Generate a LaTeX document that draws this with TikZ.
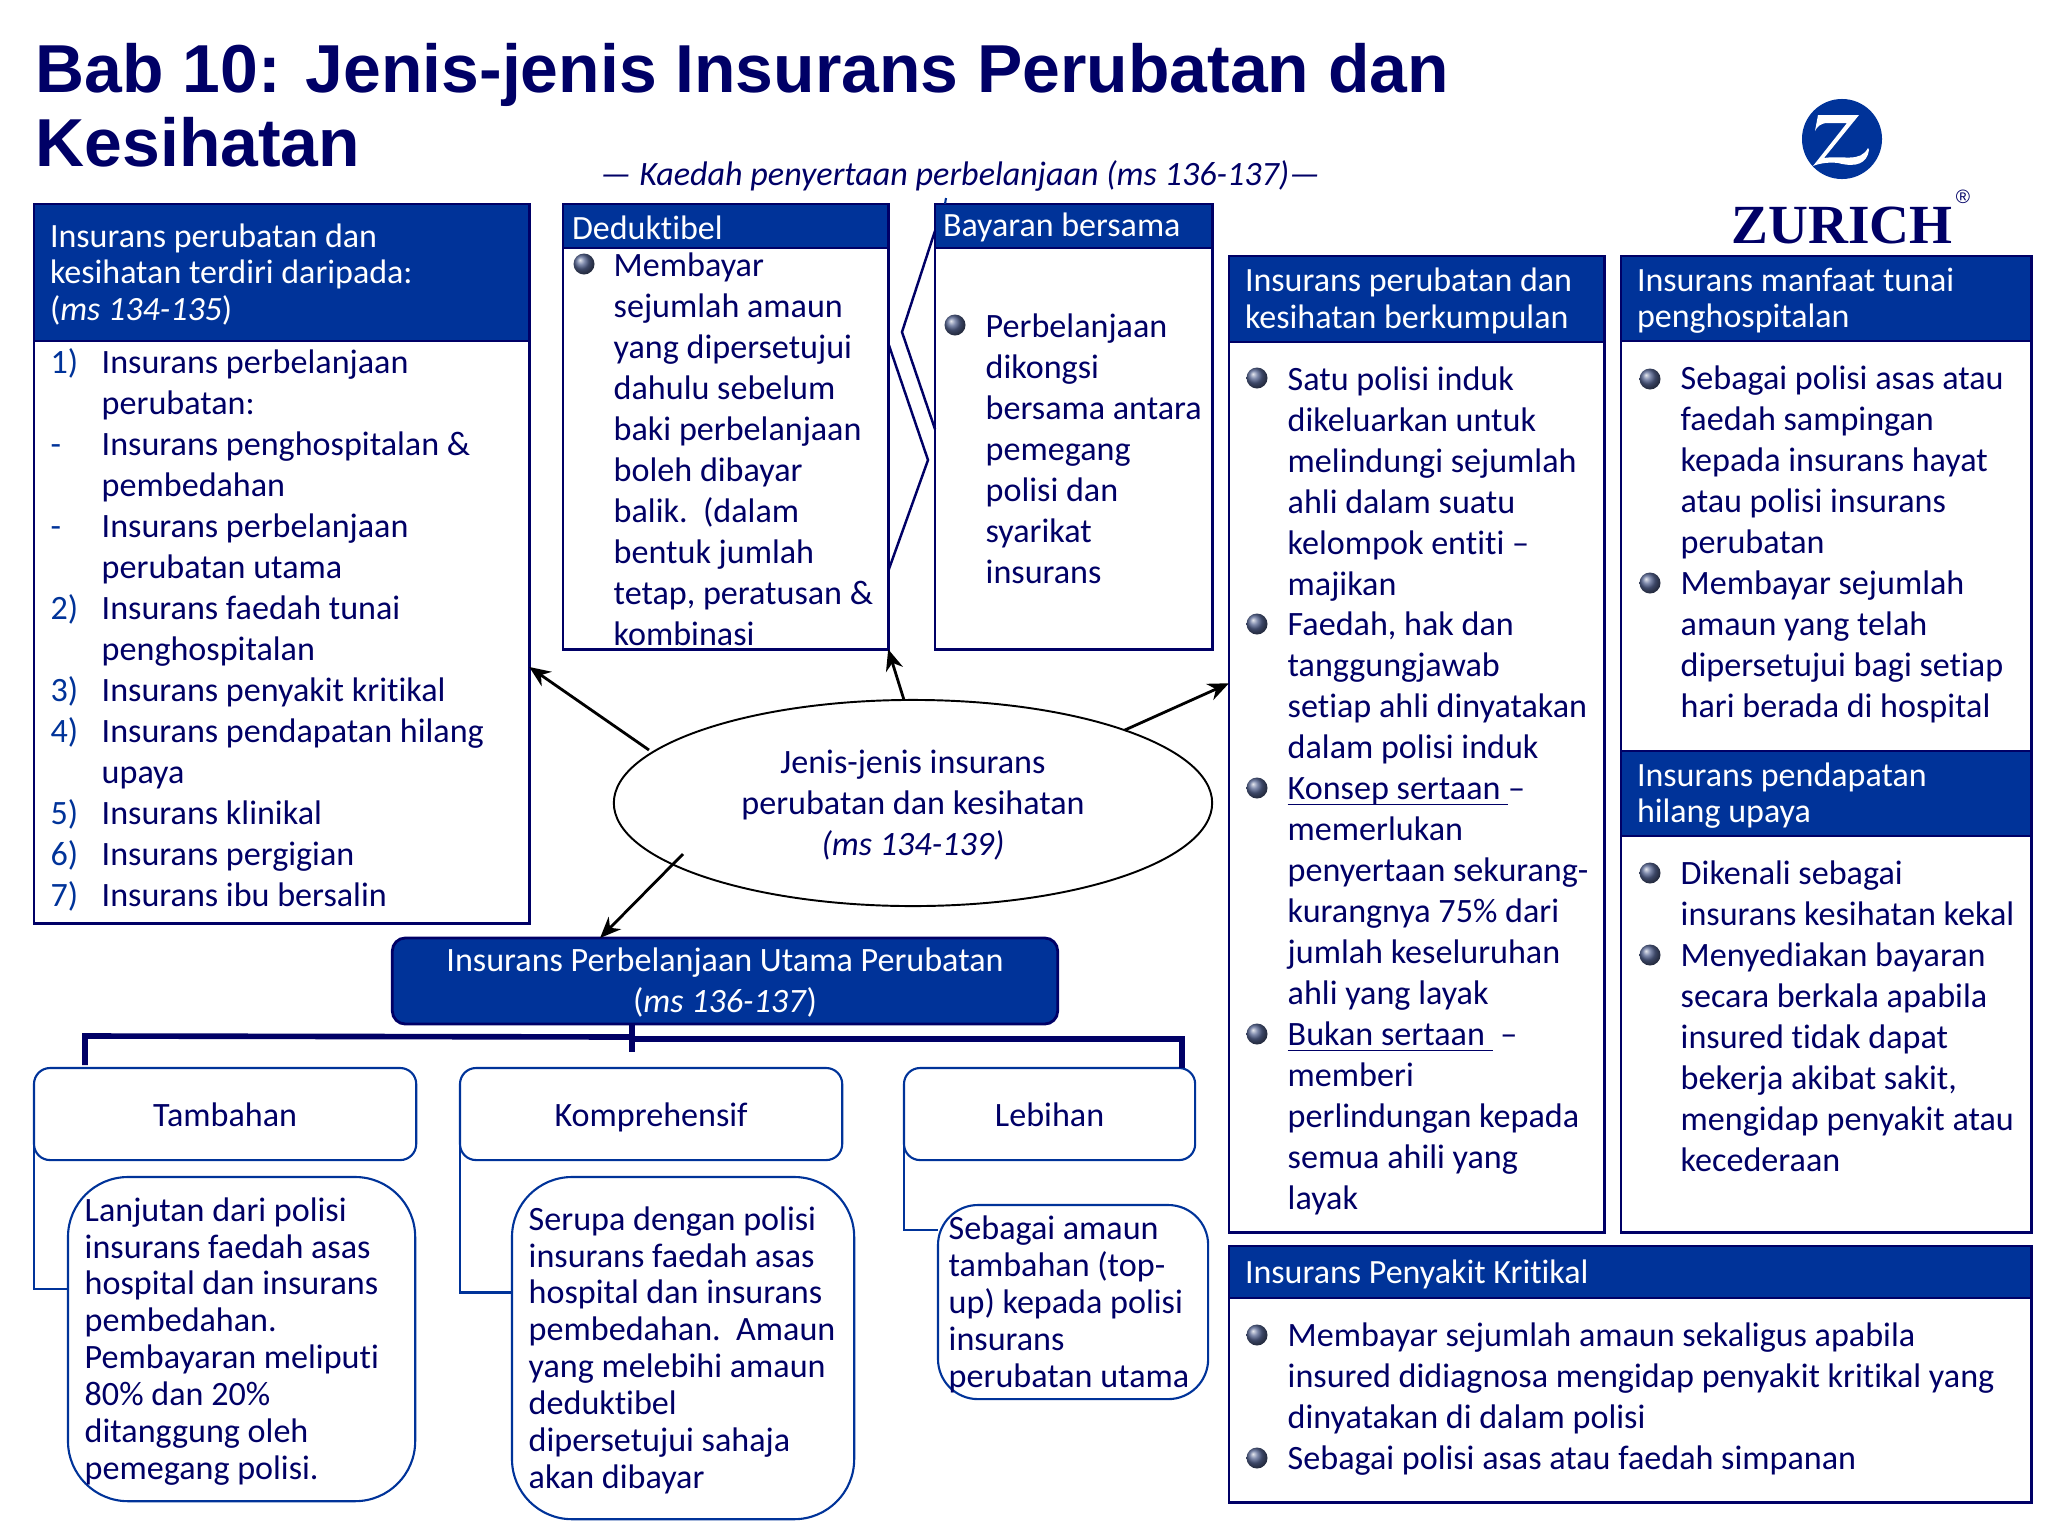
\documentclass[tikz,border=0pt]{standalone}
\usepackage{fontspec}
\setmainfont{Carlito}[Ligatures=NoCommon]
\newfontfamily\titlefont{Liberation Sans}
\newfontfamily\logofont{Liberation Serif}
\definecolor{zurichblue}{RGB}{0,51,153}
\definecolor{zurichnavy}{RGB}{0,0,102}
\definecolor{ballgrey}{RGB}{85,100,145}
\usetikzlibrary{shapes.geometric,arrows.meta,calc}
\newcommand{\bodyfont}{\fontsize{9.7}{11.64}\selectfont}
\newcommand{\headfont}{\fontsize{9.67}{10.4}\selectfont}
\newcommand{\subfont}{\fontsize{9.7}{10.47}\selectfont}

\tikzset{
    headbox/.style={draw=zurichnavy, line width=0.8pt, fill=zurichblue, text=white, anchor=north west, inner xsep=0.16cm, inner ysep=0pt, outer sep=0pt, align=flush left, font=\headfont, execute at begin node={\rule{0pt}{7.8pt}}},
    bodybox/.style={draw=zurichnavy, line width=0.8pt, fill=white, anchor=north west, inner sep=0pt, outer sep=0pt},
    bodytext/.style={text=zurichnavy, anchor=base west, inner sep=0pt, align=left, font=\bodyfont},
    subtext/.style={text=zurichnavy, anchor=base west, inner sep=0pt, align=left, font=\subfont},
    kindbox/.style={draw=zurichblue, line width=0.6pt, rounded corners=0.16cm, text=zurichnavy, anchor=north west, inner sep=0pt, outer sep=0pt, minimum height=0.92cm, text height=7pt, text depth=0pt, font=\bodyfont},
    notebox/.style={draw=zurichblue, line width=0.6pt, fill=white, anchor=north west, inner sep=0pt, outer sep=0pt},
    ballmark/.style={ball color=ballgrey},
    pointer/.style={draw=black, line width=0.8pt, -{Stealth[length=6pt,width=5pt]}},
    branch/.style={draw=zurichnavy, line width=1.6pt},
    subline/.style={draw=zurichblue, line width=0.6pt},
    chevron/.style={draw=zurichnavy, line width=0.7pt}
}

\begin{document}
\begin{tikzpicture}[x=0.01cm, y=-0.01cm]
    \useasboundingbox (0,0) rectangle (2048,1536);

    % Title and logo
    \node[font=\titlefont\bfseries\fontsize{19.3}{21}\selectfont, text=zurichnavy, anchor=base west, inner sep=0pt, align=left] (title) at (35,166) {Bab 10: Jenis-jenis Insurans Perubatan dan\\Kesihatan};
    \node[font=\bodyfont\itshape, text=zurichnavy, anchor=base west, inner sep=0pt] (method) at (600,185) {--- Kaedah penyertaan perbelanjaan (ms 136-137)---};
    \node[circle, fill=zurichblue, minimum size=0.8cm, inner sep=0pt] (logodisc) at (1842,139) {};
    \fill[white] (1818,115) -- (1859,115) -- (1824,158) .. controls (1843,155) and (1860,163) .. (1868,148) -- (1869,150) .. controls (1867,163) and (1857,168) .. (1838,163) .. controls (1830,162) and (1820,163) .. (1813,166) -- (1847,123) -- (1828,123) .. controls (1820,123) and (1817,127) .. (1815,131) -- cycle;
    \node[font=\logofont\bfseries\fontsize{15.7}{18}\selectfont, text=zurichnavy, anchor=base, inner sep=0pt] (logoname) at (1842,243) {ZURICH};
    \node[font=\titlefont\fontsize{5.5}{6}\selectfont, text=zurichnavy, inner sep=0pt] (logomark) at (1963,197) {®};

    % Left column
    \node[bodybox, minimum width=4.95cm, minimum height=5.82cm] (perubody) at (34,341) {};
    \node[headbox, text width=4.63cm, minimum height=1.37cm] (peruhead) at (34,204) {Insurans perubatan dan\\kesihatan terdiri daripada:\\(\textit{ms 134-135})};
    \node[bodytext, text=zurichblue] (perunum) at (50,906) {1)\\ \\-\\ \\-\\ \\2)\\ \\3)\\4)\\ \\5)\\6)\\7)};
    \node[bodytext] (perutext) at (101,906) {Insurans perbelanjaan\\perubatan:\\Insurans penghospitalan \&\\pembedahan\\Insurans perbelanjaan\\perubatan utama\\Insurans faedah tunai\\penghospitalan\\Insurans penyakit kritikal\\Insurans pendapatan hilang\\upaya\\Insurans klinikal\\Insurans pergigian\\Insurans ibu bersalin};

    % Cost sharing
    \node[bodybox, minimum width=3.25cm, minimum height=4.01cm] (dedubody) at (563,248) {};
    \node[headbox, inner xsep=0.09cm, text width=3.07cm, minimum height=0.44cm] (deduhead) at (563,204) {Deduktibel};
    \node[bodytext] (dedutext) at (613,645) {Membayar\\sejumlah amaun\\yang dipersetujui\\dahulu sebelum\\baki perbelanjaan\\boleh dibayar\\balik.\ \ (dalam\\bentuk jumlah\\tetap, peratusan \&\\kombinasi};
    \node[bodybox, minimum width=2.77cm, minimum height=4.01cm] (bayarbody) at (935,248) {};
    \node[headbox, inner xsep=0.08cm, text width=2.61cm, minimum height=0.44cm] (bayarhead) at (935,204) {Bayaran bersama};
    \node[bodytext] (bayartext) at (985,583) {Perbelanjaan\\dikongsi\\bersama antara\\pemegang\\polisi dan\\syarikat\\insurans};
    \foreach \y in {264} \shade[ballmark] (584,\y) circle (10.5);
    \foreach \y in {325} \shade[ballmark] (955,\y) circle (10.5);
    \coordinate (chevleft) at (902,332);
    \coordinate (chevright) at (928,460);
    \draw[chevron] (bayarhead.182.5) -- (chevleft) -- (bayarbody.172);
    \draw[chevron] (dedubody.33) -- (chevright) -- (dedubody.-37.5);
    \draw[subline] ($(bayarhead.north west)+(10,0)$) -- +(1,-6);

    % Group cover
    \node[bodybox, minimum width=3.75cm, minimum height=8.9cm] (grupbody) at (1229,342) {};
    \node[headbox, text width=3.43cm, minimum height=0.86cm] (gruphead) at (1229,256) {Insurans perubatan dan\\kesihatan berkumpulan};
    \node[bodytext] (gruptext) at (1287,1209) {Satu polisi induk\\dikeluarkan untuk\\melindungi sejumlah\\ahli dalam suatu\\kelompok entiti --\\majikan\\Faedah, hak dan\\tanggungjawab\\setiap ahli dinyatakan\\dalam polisi induk\\\underline{\smash{Konsep sertaan}\ }--\\memerlukan\\penyertaan sekurang-\\kurangnya 75\% dari\\jumlah keseluruhan\\ahli yang layak\\\underline{\smash{Bukan sertaan}\ }\ --\\memberi\\perlindungan kepada\\semua ahili yang\\layak};
    \foreach \y in {378,624,788,1034} \shade[ballmark] (1257,\y) circle (10.5);

    % Hospital cash and income
    \node[bodybox, minimum width=4.1cm, minimum height=4.1cm] (tunaibody) at (1621,341) {};
    \node[headbox, text width=3.78cm, minimum height=0.85cm] (tunaihead) at (1621,256) {Insurans manfaat tunai\\penghospitalan};
    \node[bodytext] (tunaitext) at (1680,717) {Sebagai polisi asas atau\\faedah sampingan\\kepada insurans hayat\\atau polisi insurans\\perubatan\\Membayar sejumlah\\amaun yang telah\\dipersetujui bagi setiap\\hari berada di hospital};
    \node[bodybox, minimum width=4.1cm, minimum height=3.96cm] (hilangbody) at (1621,836) {};
    \node[headbox, text width=3.78cm, minimum height=0.85cm] (hilanghead) at (1621,751) {Insurans pendapatan\\hilang upaya};
    \node[bodytext] (hilangtext) at (1680,1171) {Dikenali sebagai\\insurans kesihatan kekal\\Menyediakan bayaran\\secara berkala apabila\\insured tidak dapat\\bekerja akibat sakit,\\mengidap penyakit atau\\kecederaan};
    \foreach \y in {379,583,873,955} \shade[ballmark] (1650,\y) circle (10.5);

    % Critical illness
    \node[bodybox, minimum width=8.02cm, minimum height=2.04cm] (kritbody) at (1229,1298) {};
    \node[headbox, text width=7.7cm, minimum height=0.52cm] (krithead) at (1229,1246) {Insurans Penyakit Kritikal};
    \node[bodytext] (krittext) at (1287,1469) {Membayar sejumlah amaun sekaligus apabila\\insured didiagnosa mengidap penyakit kritikal yang\\dinyatakan di dalam polisi\\Sebagai polisi asas atau faedah simpanan};
    \foreach \y in {1335,1458} \shade[ballmark] (1257,\y) circle (10.5);

    % Centre ellipse
    \node[ellipse, draw=black, line width=0.55pt, fill=white, minimum width=5.98cm, minimum height=2.06cm, inner sep=0pt, outer sep=0pt, text=zurichnavy, align=center, font=\bodyfont] (jenis) at (913,803) {\rule{0pt}{8pt}Jenis-jenis insurans\\perubatan dan kesihatan\\\textit{(ms 134-139)}};
    \coordinate (jenisleft) at (649,750);
    \coordinate (jenisdown) at (683,854);
    \draw[pointer] (jenisleft) -- (perubody.-8);
    \draw[pointer] (jenis.95) -- (dedubody.south east);
    \draw[pointer] (jenis.19) -- (grupbody.151);

    % Main medical
    \node[draw=zurichnavy, line width=0.8pt, fill=zurichblue, text=white, rounded corners=0.13cm, minimum width=6.65cm, minimum height=0.86cm, inner sep=0pt, outer sep=0pt, align=center, font=\bodyfont] (utama) at (725,981) {\rule{0pt}{7.4pt}Insurans Perbelanjaan Utama Perubatan\\(\textit{ms 136-137})};
    \draw[pointer] (jenisdown) -- (utama.161.3);

    % Three kinds
    \node[kindbox, minimum width=3.82cm] (tambah) at (34,1068) {Tambahan};
    \node[kindbox, minimum width=3.82cm] (kompre) at (460,1068) {Komprehensif};
    \node[kindbox, minimum width=2.91cm] (lebih) at (904,1068) {Lebihan};
    \coordinate (hub) at (632,1037);
    \draw[branch] ($(tambah.north west)+(51,-3)$) -- ++(0,-29) -- (hub);
    \draw[branch] (hub) -- ++(0,2) -- ($(lebih.north east)+(-13,-29)$) -- ($(lebih.north east)+(-13,0)$);
    \draw[branch] (utama.south -| hub) -- ($(hub)+(0,15)$);

    % Notes
    \node[notebox, rounded corners=0.6cm, minimum width=3.47cm, minimum height=3.24cm] (lanjut) at (68,1177) {};
    \node[subtext] (lanjuttext) at (84,1479) {Lanjutan dari polisi\\insurans faedah asas\\hospital dan insurans\\pembedahan.\\Pembayaran meliputi\\80\% dan 20\%\\ditanggung oleh\\pemegang polisi.};
    \node[notebox, rounded corners=0.6cm, minimum width=3.42cm, minimum height=3.42cm] (serupa) at (512,1177) {};
    \node[subtext] (serupatext) at (528,1488) {Serupa dengan polisi\\insurans faedah asas\\hospital dan insurans\\pembedahan.\ \ Amaun\\yang melebihi amaun\\deduktibel\\dipersetujui sahaja\\akan dibayar};
    \node[notebox, rounded corners=0.4cm, minimum width=2.7cm, minimum height=1.94cm] (sebagai) at (938,1205) {};
    \node[subtext] (sebagaitext) at (948,1387) {Sebagai amaun\\tambahan (top-\\up) kepada polisi\\insurans\\perubatan utama};
    \draw[subline] ($(tambah.south west)+(0,-16)$) |- (lanjut.164);
    \draw[subline] ($(kompre.south west)+(0,-16)$) |- (serupa.162.6);
    \draw[subline] ($(lebih.south west)+(0,-16)$) |- (sebagai.152.6);
\end{tikzpicture}
\end{document}
